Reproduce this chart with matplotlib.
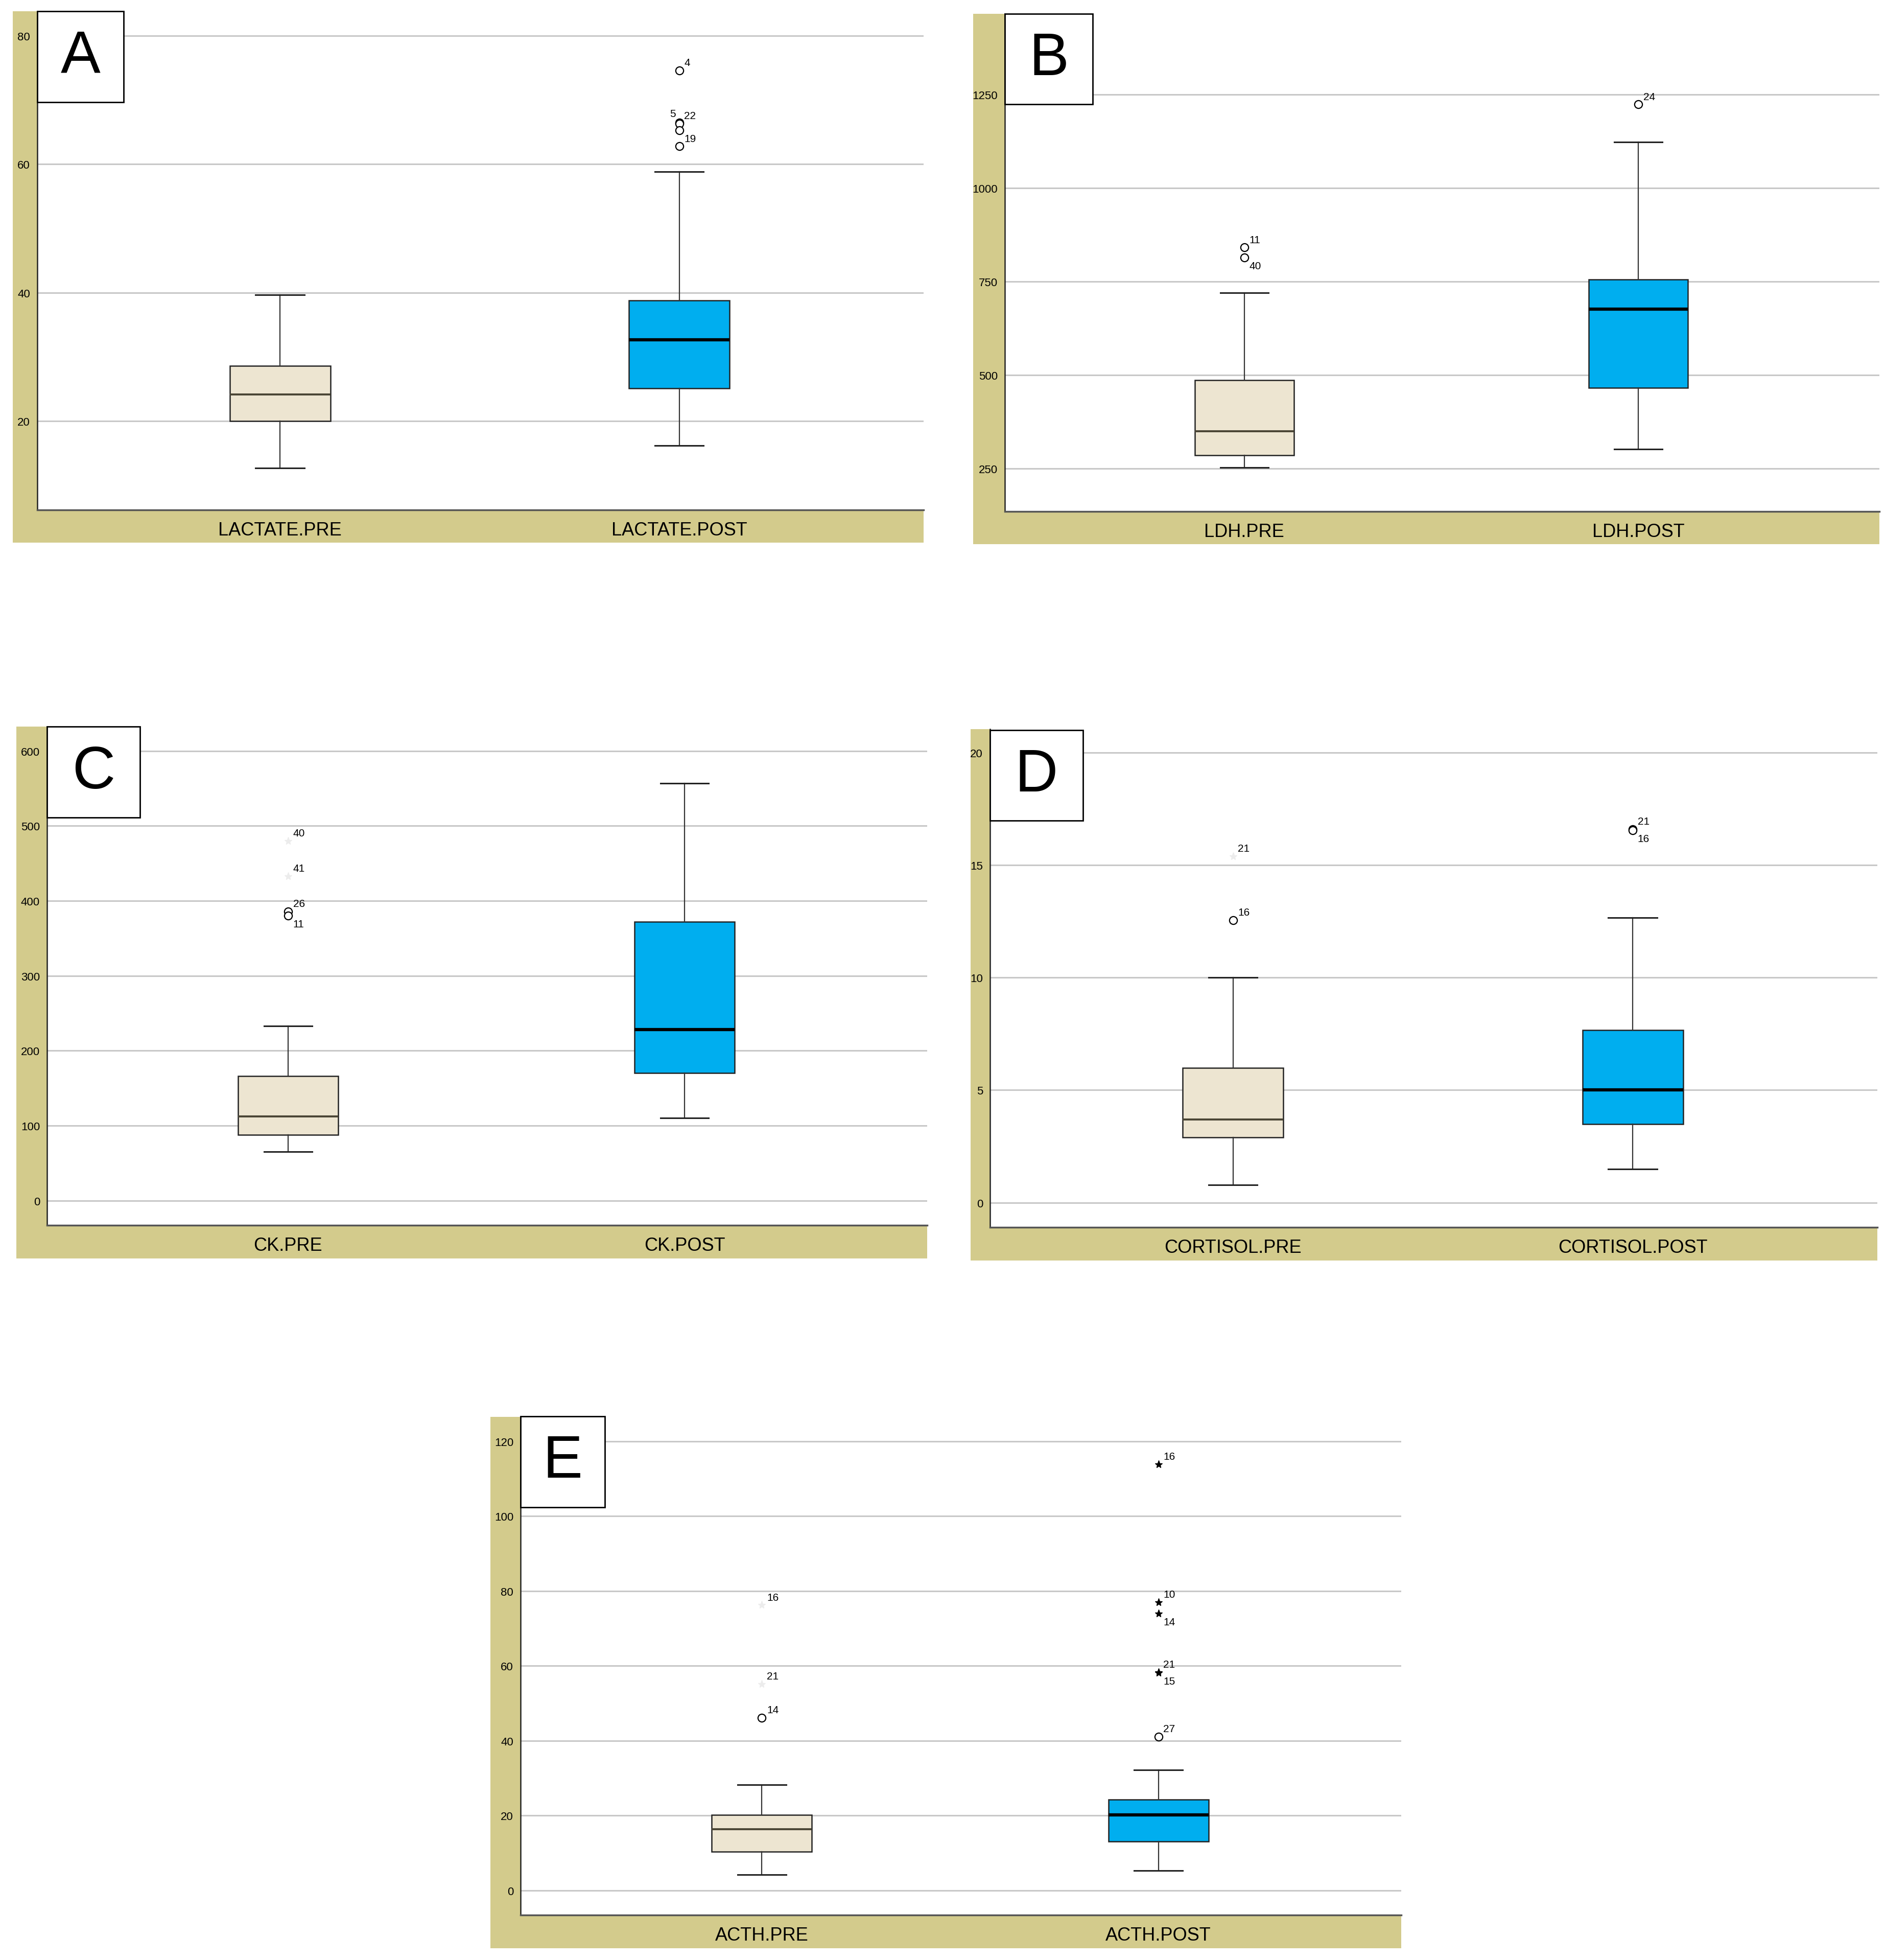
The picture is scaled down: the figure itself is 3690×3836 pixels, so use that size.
import numpy as np
import matplotlib.pyplot as plt
from matplotlib.patches import Rectangle

plt.rcParams['font.family'] = ['Liberation Sans', 'DejaVu Sans']

# box stats per group: [whisker low, Q1, median, Q3, whisker high]
lactate_pre = [12.7, 20.0, 24.2, 28.6, 39.7]
lactate_post = [16.2, 25.1, 32.7, 38.8, 58.8]
ldh_pre = [254, 286, 350, 486, 720]
ldh_post = [303, 466, 677, 756, 1123]
ck_pre = [65, 88, 112, 166, 233]
ck_post = [110, 170, 228, 372, 557]
cortisol_pre = [0.79, 2.9, 3.7, 5.98, 10.0]
cortisol_post = [1.49, 3.5, 5.0, 7.67, 12.67]
acth_pre = [4.2, 10.3, 16.3, 20.1, 28.2]
acth_post = [5.3, 13.1, 20.2, 24.2, 32.2]

# outliers: (value, case label, label side, marker kind)
lactate_pre_out = []
lactate_post_out = [(74.6, '4', 'ur', 'o'), (66.5, '5', 'ul', 'o'), (66.3, '22', 'ur', 'o'),
                    (65.3, '19', 'lr', 'o'), (62.8, '', '', 'o')]
ldh_pre_out = [(841, '11', 'ur', 'o'), (814, '40', 'lr', 'o')]
ldh_post_out = [(1223, '24', 'ur', 'o')]
ck_pre_out = [(480, '40', 'ur', 'faint'), (433, '41', 'ur', 'faint'),
              (386, '26', 'ur', 'o'), (380, '11', 'lr', 'o')]
ck_post_out = []
cortisol_pre_out = [(15.4, '21', 'ur', 'faint'), (12.56, '16', 'ur', 'o')]
cortisol_post_out = [(16.6, '21', 'ur', 'o'), (16.55, '16', 'lr', 'o')]
acth_pre_out = [(76.2, '16', 'ur', 'faint'), (55.1, '21', 'ur', 'faint'), (46.1, '14', 'ur', 'o')]
acth_post_out = [(113.8, '16', 'ur', '*'), (77.0, '10', 'ur', '*'), (74.0, '14', 'lr', '*'),
                 (58.3, '21', 'ur', '*'), (58.1, '15', 'lr', '*'), (41.1, '27', 'ur', 'o')]

names = [['LACTATE.PRE', 'LACTATE.POST'], ['LDH.PRE', 'LDH.POST'], ['CK.PRE', 'CK.POST'],
         ['CORTISOL.PRE', 'CORTISOL.POST'], ['ACTH.PRE', 'ACTH.POST']]
letters = ['A', 'B', 'C', 'D', 'E']
yticks = [[20, 40, 60, 80], [250, 500, 750, 1000, 1250], [0, 100, 200, 300, 400, 500, 600],
          [0, 5, 10, 15, 20], [0, 20, 40, 60, 80, 100, 120]]
ylims = [(6.2, 83.8), (136, 1465), (-33, 632.5), (-1.1, 21.05), (-6.6, 126.5)]

stats = [(lactate_pre, lactate_post), (ldh_pre, ldh_post), (ck_pre, ck_post),
         (cortisol_pre, cortisol_post), (acth_pre, acth_post)]
outs = [(lactate_pre_out, lactate_post_out), (ldh_pre_out, ldh_post_out), (ck_pre_out, ck_post_out),
        (cortisol_pre_out, cortisol_post_out), (acth_pre_out, acth_post_out)]

# layout in pixels: khaki left, plot left, plot right, plot top, axis bottom, khaki bottom
layout = [(25, 73, 1808, 23, 999, 1063),
          (1905, 1967, 3679, 28, 1002, 1066),
          (32, 92, 1815, 1423, 2399, 2464),
          (1900, 1938, 3675, 1428, 2403, 2468),
          (960, 1019, 2743, 2774, 3749, 3814)]
# letter boxes: x0, x1, y0, y1
boxes = [(73, 242, 23, 201), (1967, 2139, 28, 205), (92, 274, 1423, 1601),
         (1938, 2120, 1430, 1607), (1019, 1184, 2773, 2951)]

W, H = 3691, 3837
khaki = '#D3CB8C'
fills = ['#EDE5D1', '#00AEEF']
meds = [('#4a4535', 2.8), ('black', 4.5)]

fig = plt.figure(figsize=(W / 100, H / 100), dpi=100)

offsets = {'ur': (7, 11, 'left'), 'lr': (7, -12, 'left'), 'ul': (-5, 12, 'right')}

for i in range(5):
    kl, pl, pr, pt, ab, kb = layout[i]
    fig.patches.append(Rectangle((kl / W, 1 - kb / H), (pr - kl) / W, (kb - pt) / H,
                                 transform=fig.transFigure, facecolor=khaki,
                                 edgecolor='none', zorder=-5))
    ax = fig.add_axes([pl / W, 1 - ab / H, (pr - pl) / W, (ab - pt) / H])
    ax.set_zorder(1)
    ax.set_facecolor('white')

    bstats = []
    for s, lab in zip(stats[i], names[i]):
        bstats.append(dict(whislo=s[0], q1=s[1], med=s[2], q3=s[3], whishi=s[4], label=lab))
    for j in range(2):
        ax.bxp([bstats[j]], positions=[j + 1], widths=0.252, showfliers=False,
               patch_artist=True,
               boxprops=dict(facecolor=fills[j], edgecolor='#222222', linewidth=1.8),
               medianprops=dict(color=meds[j][0], linewidth=meds[j][1]),
               whiskerprops=dict(color='#333333', linewidth=1.6),
               capprops=dict(color='#222222', linewidth=2.2), capwidths=0.122,
               zorder=3)
        for val, lab, side, kind in outs[i][j]:
            if kind == 'o':
                ax.plot(j + 1, val, 'o', ms=11, mfc='white', mec='black', mew=1.6, zorder=4)
            elif kind == '*':
                ax.plot(j + 1, val, '*', ms=11, color='black', zorder=4)
            else:
                ax.plot(j + 1, val, '*', ms=11, color='#ececec', zorder=4)
            if lab:
                dx, dy, ha = offsets[side]
                ax.annotate(lab, (j + 1, val), xytext=(dx, dy), textcoords='offset points',
                            ha=ha, va='center', fontsize=15, color='black', zorder=5)

    ax.set_xlim(0.392, 2.612)
    ax.set_ylim(*ylims[i])
    ax.set_xticks([1, 2])
    ax.set_xticklabels(names[i], fontsize=26)
    ax.set_yticks(yticks[i])
    ax.set_yticklabels([str(t) for t in yticks[i]], fontsize=16)
    ax.tick_params(axis='both', length=0)
    ax.tick_params(axis='x', pad=16)
    ax.tick_params(axis='y', pad=10)
    ax.yaxis.grid(True, color='#c8c8c8', linewidth=2.2, zorder=0)
    ax.set_axisbelow(True)
    for sp in ['top', 'right']:
        ax.spines[sp].set_visible(False)
    ax.spines['left'].set_color('#222222')
    ax.spines['bottom'].set_color('#555555')
    ax.spines['left'].set_linewidth(1.8)
    ax.spines['bottom'].set_linewidth(2.5)

    bx0, bx1, by0, by1 = boxes[i]
    fig.patches.append(Rectangle((bx0 / W, 1 - by1 / H), (bx1 - bx0) / W, (by1 - by0) / H,
                                 transform=fig.transFigure, facecolor='white',
                                 edgecolor='black', linewidth=2, zorder=10))
    fig.text((bx0 + bx1) / 2 / W, 1 - (by0 + by1) / 2 / H, letters[i], fontsize=84,
             ha='center', va='center', zorder=11)

fig.savefig('out.png', dpi=100, facecolor='white')
